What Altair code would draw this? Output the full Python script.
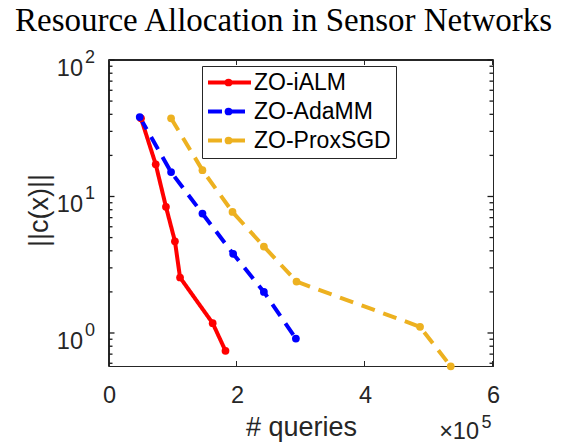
import altair as alt
import pandas as pd

# ---- data ----
title_text = "Resource Allocation in Sensor Networks"
series = ["ZO-iALM", "ZO-AdaMM", "ZO-ProxSGD"]
colors = ["#FF0000", "#0000FF", "#EDB120"]
dashes = [[1, 0], [14, 9], [14, 9]]

ialm_x = [50000, 73000, 89000, 103000, 111000, 162000, 182000]
ialm_y = [37.4, 17.2, 8.4, 4.7, 2.55, 1.18, 0.74]
adamm_x = [48000, 97000, 146000, 194000, 242000, 292000]
adamm_y = [38.2, 15.1, 7.5, 3.8, 2.0, 0.91]
prox_x = [97000, 146000, 193000, 242000, 293000, 486000, 534000]
prox_y = [37.4, 15.6, 7.7, 4.3, 2.38, 1.11, 0.57]

x_ticks = [0, 200000, 400000, 600000]
y_major = [1, 10, 100]
y_exponents = ["0", "1", "2"]
y_minor = [0.6, 0.7, 0.8, 0.9, 2, 3, 4, 5, 6, 7, 8, 9, 20, 30, 40, 50, 60, 70, 80, 90]

rows = []
for name, xs, ys in [(series[0], ialm_x, ialm_y), (series[1], adamm_x, adamm_y), (series[2], prox_x, prox_y)]:
    for a, b in zip(xs, ys):
        rows.append({"s": name, "q": a, "c": b})
df = pd.DataFrame(rows)
df_lab = pd.DataFrame({"v": y_major, "e": y_exponents})
df_minor = pd.DataFrame({"v": y_minor})
df_xt = pd.DataFrame({"t": x_ticks})
df_mult = pd.DataFrame({"base": ["×10"], "exp": ["5"]})
df_title = pd.DataFrame({"t": [title_text]})

FONT = "Liberation Sans"
INK = "#262626"
W, H = 384, 306

x_scale = alt.Scale(domain=[0, 600000], nice=False, zero=False)
y_scale = alt.Scale(type="log", domain=[0.573, 100], nice=False)
color_scale = alt.Scale(domain=series, range=colors)
dash_scale = alt.Scale(domain=series, range=dashes)
# same mapping, listed in another order so the marker legend stays separate
fill_scale = alt.Scale(domain=[series[1], series[0], series[2]],
                       range=[colors[1], colors[0], colors[2]])

line_legend = alt.Legend(
    title=None, orient="none", legendX=93, legendY=6,
    symbolType="M-4.3,0L4.3,0", symbolSize=100, symbolStrokeWidth=4,
    symbolOffset=11, labelOffset=13,
    labelFont=FONT, labelFontSize=23, labelColor="black",
    strokeColor=INK, fillColor="white", padding=5, rowPadding=5, zindex=1,
)
marker_legend = alt.Legend(
    title=None, orient="none", legendX=103, legendY=6, values=series,
    symbolType="circle", symbolSize=60, symbolStrokeWidth=0,
    labelFont=FONT, labelFontSize=23, labelExpr="' '",
    padding=5, rowPadding=5, labelOffset=5, zindex=2,
)

x_axis = alt.Axis(
    orient="bottom", values=x_ticks, labelExpr="format(datum.value/100000, 'd')",
    labelFont=FONT, labelFontSize=23.5, labelColor=INK, labelFlush=False,
    ticks=False, tickSize=0, labelPadding=17, domain=False, grid=False,
    title="# queries", titleFont=FONT, titleFontSize=27, titleFontWeight="normal",
    titleColor=INK, titleBaseline="alphabetic", titleY=69, titleX=192,
)
y_axis = alt.Axis(
    orient="left", values=y_major, labels=False, ticks=False, tickSize=0,
    domain=False, grid=False,
    title="||c(x)||", titleFont=FONT, titleFontSize=27, titleFontWeight="normal",
    titleColor=INK, titleX=-70, titleY=150, titleAngle=270, titleBaseline="middle",
    titleAlign="center",
)

X = alt.X("q:Q", scale=x_scale, axis=x_axis)
Y = alt.Y("c:Q", scale=y_scale, axis=y_axis)

lines = alt.Chart(df).mark_line(strokeWidth=4).encode(
    x=X, y=Y,
    color=alt.Color("s:N", scale=color_scale, legend=line_legend),
    strokeDash=alt.StrokeDash("s:N", scale=dash_scale, legend=line_legend),
)
points = alt.Chart(df).mark_point(filled=True, size=60, opacity=1).encode(
    x=X, y=Y,
    fill=alt.Fill("s:N", scale=fill_scale, legend=marker_legend),
)

# plot frame, drawn on the pixel grid
edge = dict(color=INK, strokeWidth=1, opacity=1)
frame_l = alt.Chart(df_title).mark_rule(**edge).encode(x=alt.value(-0.5), y=alt.value(-0.5), y2=alt.value(H + 0.5))
frame_r = alt.Chart(df_title).mark_rule(**edge).encode(x=alt.value(W + 0.5), y=alt.value(-0.5), y2=alt.value(H + 0.5))
frame_t = alt.Chart(df_title).mark_rule(**edge).encode(y=alt.value(-0.5), x=alt.value(-0.5), x2=alt.value(W + 0.5))
frame_b = alt.Chart(df_title).mark_rule(**edge).encode(y=alt.value(H + 0.5), x=alt.value(-0.5), x2=alt.value(W + 0.5))

# inward ticks on all four sides (positioned through the scales)
yv = alt.Y("v:Q", scale=y_scale, axis=y_axis)
xt = alt.X("t:Q", scale=x_scale, axis=x_axis)
tick = dict(color="#1a1a1a", strokeWidth=1.3, opacity=1)
ticks_l_major = alt.Chart(df_lab).mark_rule(**tick).encode(y=yv, x=alt.value(0), x2=alt.value(5.5))
ticks_r_major = alt.Chart(df_lab).mark_rule(**tick).encode(y=yv, x=alt.value(W - 5.5), x2=alt.value(W))
ticks_l_minor = alt.Chart(df_minor).mark_rule(**tick).encode(y=yv, x=alt.value(0), x2=alt.value(3.5))
ticks_r_minor = alt.Chart(df_minor).mark_rule(**tick).encode(y=yv, x=alt.value(W - 3.5), x2=alt.value(W))
ticks_b = alt.Chart(df_xt).mark_rule(xOffset=-0.5, **edge).encode(x=xt, y=alt.value(H - 5), y2=alt.value(H))
ticks_t = alt.Chart(df_xt).mark_rule(xOffset=-0.5, **edge).encode(x=xt, y=alt.value(0), y2=alt.value(5))

ten = alt.Chart(df_lab).mark_text(
    text="10", align="right", baseline="alphabetic", dy=16,
    font=FONT, fontSize=23.5, color=INK,
).encode(y=yv, x=alt.value(-26))
expo = alt.Chart(df_lab).mark_text(
    align="left", baseline="alphabetic", dy=3,
    font=FONT, fontSize=18, color=INK,
).encode(y=yv, x=alt.value(-24), text="e:N")
mult = alt.Chart(df_mult).mark_text(
    align="right", baseline="alphabetic", font=FONT, fontSize=23.5, color=INK,
).encode(x=alt.value(370), y=alt.value(379), text="base:N")
mult_e = alt.Chart(df_mult).mark_text(
    align="left", baseline="alphabetic", font=FONT, fontSize=18, color=INK,
).encode(x=alt.value(372.5), y=alt.value(368), text="exp:N")
title = alt.Chart(df_title).mark_text(
    align="center", baseline="alphabetic", font="Liberation Serif", fontSize=33, color="black",
).encode(x=alt.value(174.5), y=alt.value(-29), text="t:N")

chart = alt.layer(
    frame_l, frame_r, frame_t, frame_b,
    ticks_l_major, ticks_r_major, ticks_l_minor, ticks_r_minor, ticks_b, ticks_t,
    lines, points, ten, expo, mult, mult_e, title,
).properties(
    width=W, height=H,
    autosize=alt.AutoSizeParams(type="none"),
    padding={"left": 101, "top": 52, "right": 65, "bottom": 77},
).configure(background="white").configure_view(stroke=INK, strokeWidth=1)

chart.save("out.html", embed_options={"renderer": "svg", "actions": False})
